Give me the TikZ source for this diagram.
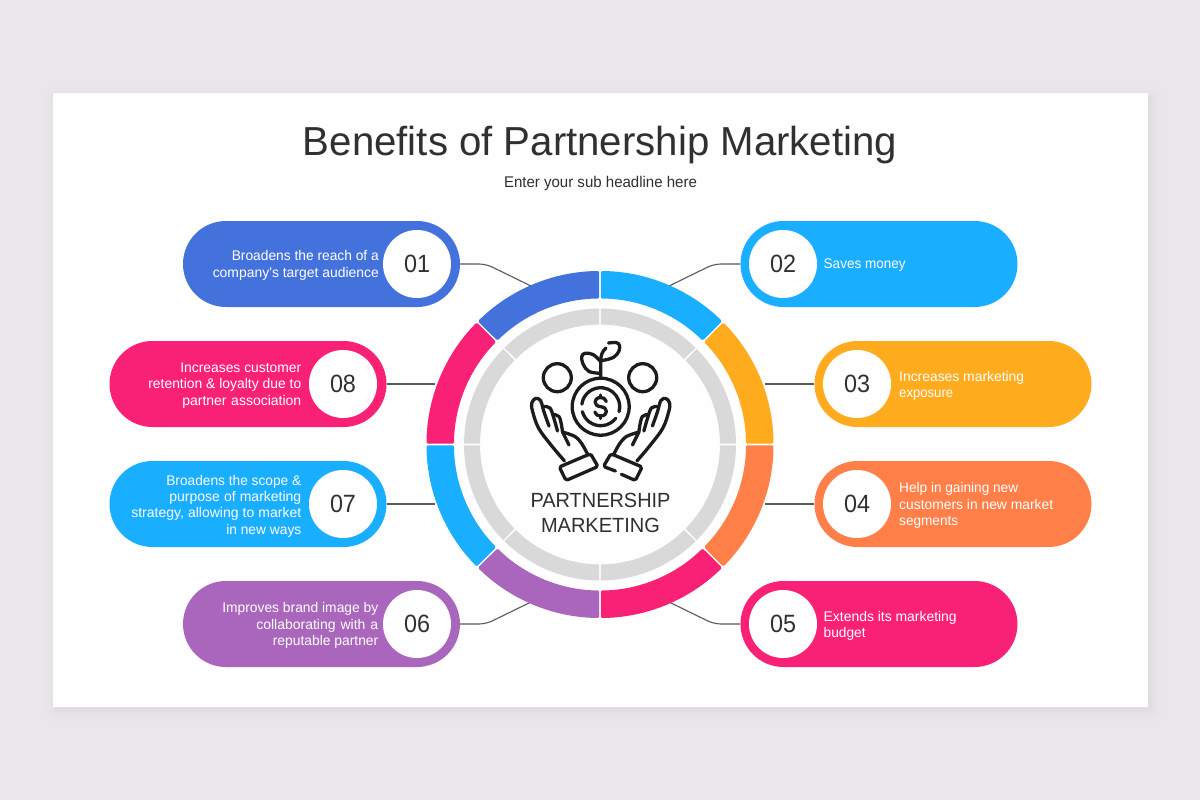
\documentclass[tikz,border=0pt]{standalone}
\usepackage{fontspec}
\usepackage{graphicx}
\setmainfont{Liberation Sans}
\definecolor{bgc}{HTML}{E9E7E9}
\definecolor{cardc}{HTML}{FEFEFE}
\definecolor{cblue}{HTML}{4472DC}
\definecolor{csky}{HTML}{19AEFE}
\definecolor{cyel}{HTML}{FEAB1E}
\definecolor{corg}{HTML}{FE7F48}
\definecolor{cpink}{HTML}{F92176}
\definecolor{cpur}{HTML}{A966BC}
\definecolor{cgray}{HTML}{D9D9D9}
\definecolor{ink}{HTML}{303030}
\definecolor{iconc}{HTML}{1C1C1C}
\definecolor{connc}{HTML}{5A5A5A}
% fit a line of text to a measured width: stretch word spaces or scale slightly
\newcommand\fl[2]{\sbox0{#2}\ifdim\wd0<#1pt\relax\makebox[#1pt][s]{#2}\else\resizebox{#1pt}{\height}{#2}\fi}
\newcommand\fs[2]{\resizebox{#1pt}{\height}{#2}}
\tikzset{
  pill/.style={rounded corners=43pt,minimum width=277pt,minimum height=86pt,inner sep=0pt,fill=#1},
  numdisc/.style={circle,fill=cardc,minimum size=68pt,inner sep=0pt,text=ink,font=\fontsize{25}{26}\selectfont},
  lbl/.style={inner sep=0pt,text=white,font=\fontsize{14}{16.3}\selectfont},
  lblL/.style={lbl,anchor=east,align=right},
  lblR/.style={lbl,anchor=west,align=left},
  conn/.style={draw=connc,line width=1.1pt,rounded corners=7pt},
  iconline/.style={draw=iconc,line width=3.3pt,line cap=round,line join=round},
  centretxt/.style={inner sep=0pt,text=ink,font=\fontsize{20.5}{22}\selectfont},
}
\newcommand\ringseg[3]{%
  \fill[#3,rounded corners=1.3pt] (#1+.28:173.5) arc[start angle=#1+.28,end angle=#2-.28,radius=173.5]
    -- (#2-.35:146) arc[start angle=#2-.35,end angle=#1+.35,radius=146] -- cycle;
  \fill[cgray] (#1+.35:136) arc[start angle=#1+.35,end angle=#2-.35,radius=136]
    -- (#2-.45:120) arc[start angle=#2-.45,end angle=#1+.45,radius=120] -- cycle;
}
\newcommand\handshape{%
  \draw[iconline] plot[smooth,tension=.6] coordinates {(564.5,461) (551,445) (538.5,428) (532.5,411) (531.8,403) (535.5,398.5) (540.5,400.5) (544,412) (549,426)};
  \draw[iconline] plot[smooth,tension=.6] coordinates {(544.5,406.5) (550,408) (553.5,417) (557.5,431)};
  \draw[iconline] plot[smooth,tension=.6] coordinates {(553.5,414.5) (559,416.5) (561.5,425) (562.5,432)};
  \draw[iconline] (562.5,432) -- (569,445);
  \draw[iconline] plot[smooth,tension=.5] coordinates {(562.5,432) (575,436.5) (582,444) (588,455)};
}
\begin{document}
\begin{tikzpicture}[x=1pt,y=1pt,yscale=-1]
\path[use as bounding box,fill=bgc] (0,0) rectangle (1200,800);
% card and its soft shadow
\foreach \e/\o in {12/.004,9/.005,6/.006,3/.008,1/.01}{
  \fill[black,opacity=\o,rounded corners=\e pt] (53-\e+3,93-\e+4) rectangle (1148+\e+3,707+\e+4);
}
\fill[cardc] (53,93) rectangle (1148,707);
% heading
\node[inner sep=0pt,text=ink,font=\fontsize{40.5}{44}\selectfont] (title) at (600,145) {\fs{594}{Benefits of Partnership Marketing}};
\node[inner sep=0pt,text=ink,font=\fontsize{15.5}{17}\selectfont] (sub) at (600.5,183.5) {\fs{193}{Enter your sub headline here}};
% pills
\node[pill=cblue] (p1) at (321.5,264) {};
\node[pill=csky]  (p2) at (879,264) {};
\node[pill=cyel]  (p3) at (953,384) {};
\node[pill=corg]  (p4) at (953,504) {};
\node[pill=cpink] (p5) at (879,624) {};
\node[pill=cpur]  (p6) at (321.5,624) {};
\node[pill=csky]  (p7) at (248,504) {};
\node[pill=cpink] (p8) at (248,384) {};
% connector ends, hidden under the ring
\coordinate (k1) at (486,264);  \coordinate (e1) at (535,288);
\coordinate (k2) at (714,264);  \coordinate (e2) at (665,288);
\coordinate (k5) at (714,624);  \coordinate (e5) at (665,600);
\coordinate (k6) at (486,624);  \coordinate (e6) at (535,600);
\coordinate (e3) at (765,384);  \coordinate (e4) at (765,504);
\coordinate (e7) at (435,504);  \coordinate (e8) at (435,384);
\draw[conn] (p1.east) -- (k1) -- (e1);
\draw[conn] (p2.west) -- (k2) -- (e2);
\draw[conn] (p5.west) -- (k5) -- (e5);
\draw[conn] (p6.east) -- (k6) -- (e6);
\draw[conn] (p3.west) -- (e3);
\draw[conn] (p4.west) -- (e4);
\draw[conn] (p7.east) -- (e7);
\draw[conn] (p8.east) -- (e8);
% number discs
\node[numdisc] (n1) at (417,264) {\fs{26}{01}};
\node[numdisc] (n2) at (783,264) {\fs{26}{02}};
\node[numdisc] (n3) at (857,384) {\fs{26}{03}};
\node[numdisc] (n4) at (857,504) {\fs{26}{04}};
\node[numdisc] (n5) at (783,624) {\fs{26}{05}};
\node[numdisc] (n6) at (417,624) {\fs{26}{06}};
\node[numdisc] (n7) at (343,504) {\fs{26}{07}};
\node[numdisc] (n8) at (343,384) {\fs{26}{08}};
% pill texts
\node[lblL] (t1) at (379,265.5) {\fl{147}{Broadens the reach of a}\\\fl{166}{company's target audience}};
\node[lblR] (t2) at (823.5,265.5) {\fl{82}{Saves money}};
\node[lblR] (t3) at (899,386) {\fl{125}{Increases marketing}\\\fs{54}{exposure}};
\node[lblR] (t4) at (899,505.5) {\fl{119}{Help in gaining new}\\\fl{154}{customers in new market}\\\fs{59}{segments}};
\node[lblR] (t5) at (823.5,626) {\fl{133}{Extends its marketing}\\\fs{42}{budget}};
\node[lblL] (t6) at (378.5,625.5) {\fl{156}{Improves brand image by}\\\fl{122}{collaborating with a}\\\fl{105.5}{reputable partner}};
\node[lblL] (t7) at (301.5,506) {\fl{135}{Broadens the scope \&}\\\fl{132}{purpose of marketing}\\\fl{170}{strategy, allowing to market}\\\fl{75}{in new ways}};
\node[lblL] (t8) at (301.5,385.5) {\fl{121}{Increases customer}\\\fl{153}{retention \& loyalty due to}\\\fl{119}{partner association}};
% ring
\begin{scope}[shift={(600,444.5)}]
\ringseg{-135}{-90}{cblue}
\ringseg{-90}{-45}{csky}
\ringseg{-45}{0}{cyel}
\ringseg{0}{45}{corg}
\ringseg{45}{90}{cpink}
\ringseg{90}{135}{cpur}
\ringseg{135}{180}{csky}
\ringseg{180}{225}{cpink}
\end{scope}
% icon
\draw[iconline] (600.7,406.7) circle[radius=28.5];
\begin{scope}[shift={(600.7,406.7)}]
\draw[iconline] (-172:19) arc[start angle=-172,end angle=15,radius=19];
\draw[iconline] (38:19) arc[start angle=38,end angle=165,radius=19];
\end{scope}
\draw[iconline] (606.3,401.5) .. controls (605.5,398.5) and (603,397.5) .. (600.7,397.5) .. controls (597,397.5) and (595,399.8) .. (595,402) .. controls (595,405) and (597.5,406.2) .. (600.7,406.7) .. controls (604,407.2) and (606.5,408.5) .. (606.5,411.5) .. controls (606.5,414) and (604,416) .. (600.7,416) .. controls (598,416) and (595.5,414.8) .. (594.8,412);
\draw[iconline] (600.7,395) -- (600.7,397.5);
\draw[iconline] (600.7,416) -- (600.7,418.5);
\draw[iconline] (557.3,377.7) circle[radius=14];
\draw[iconline] (642.7,377.7) circle[radius=14];
\draw[iconline] (600.7,376.5) -- (600.7,361) .. controls (600.7,355) and (602.5,351) .. (606,348);
\draw[iconline] plot[smooth,tension=.6] coordinates {(600.7,373.3) (589,371.5) (583,364) (581.8,356.5) (585,353.3) (593,354.5) (600.7,361.5)};
\draw[iconline] plot[smooth,tension=.6] coordinates {(608.5,343) (616,342.6) (619.3,345) (619,351) (613.3,357.5) (601.5,360.7)};
\handshape
\draw[iconline,rounded corners=1.8pt] (559.3,467) -- (590.5,453.7) -- (598,466.5) -- (566,480.5) -- cycle;
\begin{scope}[shift={(1201.4,0)},xscale=-1]
\handshape
\draw[iconline,rounded corners=1.8pt] (586,471) -- (598,466.5) -- (590.5,453.7) -- (559.3,467) -- (566,480.5) -- (580,474.3);
\end{scope}
% centre label
\node[centretxt] (c1) at (600.5,500) {\fs{140}{PARTNERSHIP}};
\node[centretxt] (c2) at (600.5,525) {\fs{119}{MARKETING}};
\end{tikzpicture}
\end{document}
